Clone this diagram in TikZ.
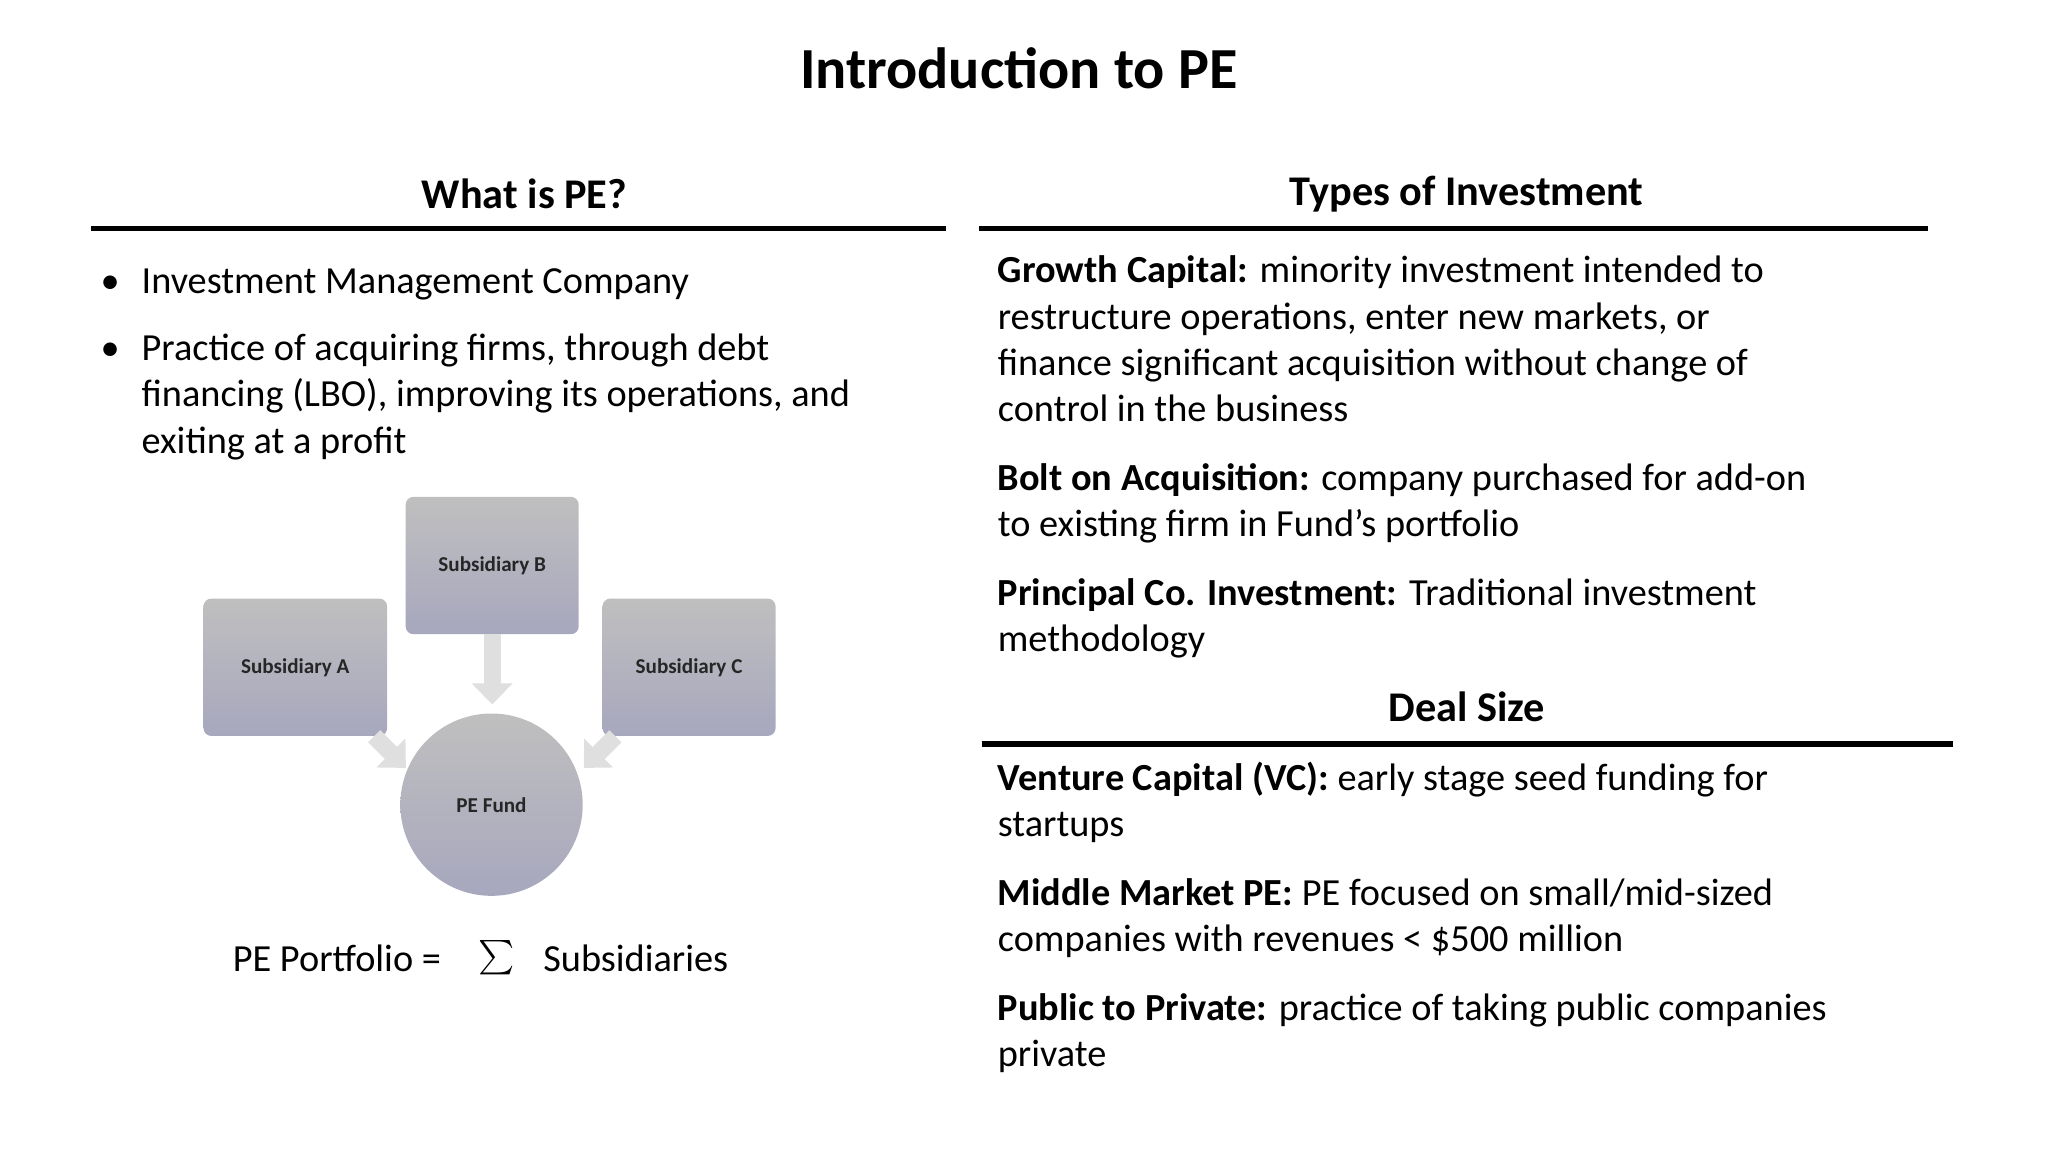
\documentclass[tikz,border=0pt]{standalone}
\usepackage{fontspec}
\setmainfont{Carlito}
\usetikzlibrary{arrows.meta,shadows}
\begin{document}
\begin{tikzpicture}[x=1pt,y=-1pt,
  body/.style={anchor=base west,inner sep=0,font=\fontsize{29}{34}\selectfont},
  head/.style={inner sep=0,font=\fontsize{32}{38}\selectfont\bfseries},
  rule/.style={line width=4pt},
  sub/.style={draw=none,rounded corners=6pt,minimum width=131pt,minimum height=104pt,top color=gray!50!white,bottom color=gray!85!blue!60!white,font=\fontsize{16}{19}\selectfont\bfseries,text=black!85},
  blk/.style={line width=13pt,gray!25,-{Triangle[length=16pt,width=30pt]}}]
\useasboundingbox (0,0) rectangle (1550,872);
\node[inner sep=0,font=\fontsize{44}{50}\selectfont\bfseries] (title) at (771,52) {Introduction to PE};
\node[head] (h1) at (397,147) {What is PE?};
\node[head] (h2) at (1110,147) {Types of Investment};
\node[head] (h3) at (1110,535) {Deal Size};
\draw[rule] (69,173) -- (716,173);
\draw[rule] (741,173) -- (1459,173);
\draw[rule] (743,563) -- (1478,563);
% left bullets
\node[body] at (76,222) {•};
\node[body] at (107,222) {Investment Management Company};
\node[body] at (76,273) {•};
\node[body] at (107,273) {Practice of acquiring firms, through debt};
\node[body] at (107,308) {financing (LBO), improving its operations, and};
\node[body] at (107,343) {exiting at a profit};
% right
\node[body] at (755,214) {\textbf{Growth Capital:} minority investment intended to};
\node[body] at (755,249) {restructure operations, enter new markets, or};
\node[body] at (755,284) {finance significant acquisition without change of};
\node[body] at (755,319) {control in the business};
\node[body] at (755,371) {\textbf{Bolt on Acquisition:} company purchased for add-on};
\node[body] at (755,406) {to existing firm in Fund’s portfolio};
\node[body] at (755,458) {\textbf{Principal Co. Investment:} Traditional investment};
\node[body] at (755,493) {methodology};
\node[body] at (755,598) {\textbf{Venture Capital (VC):} early stage seed funding for};
\node[body] at (755,633) {startups};
\node[body] at (755,685) {\textbf{Middle Market PE:} PE focused on small/mid-sized};
\node[body] at (755,720) {companies with revenues < \$500 million};
\node[body] at (755,772) {\textbf{Public to Private:} practice of taking public companies};
\node[body] at (755,807) {private};
% diagram
\node[sub,circle,minimum size=138pt,rounded corners=0] (f) at (372,609) {PE Fund};
\node[sub] (b) at (372.5,428) {Subsidiary B};
\node[sub,minimum width=139pt] (a) at (223.5,505) {Subsidiary A};
\node[sub] (c) at (521.5,505) {Subsidiary C};
\draw[blk] (b.south) -- ++(0,53);
\draw[blk] ([xshift=-10pt]a.south east) -- ++(24,24);
\draw[blk] ([xshift=10pt]c.south west) -- ++(-24,24);
\node[body] (pp) at (176,735) {PE Portfolio =};
\node[inner sep=0] (sg) at (376,725) {\scalebox{2.6}{$\sum$}};
\node[body] (ss) at (411,735) {Subsidiaries};
\end{tikzpicture}
\end{document}
